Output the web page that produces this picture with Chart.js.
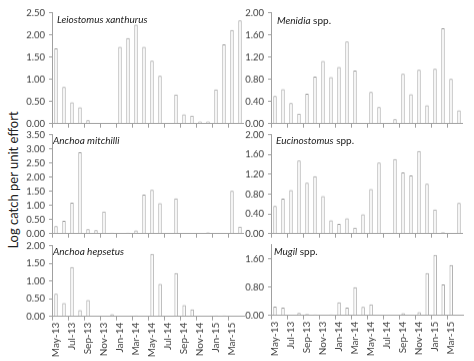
<!DOCTYPE html>
<html>
<head>
<meta charset="utf-8">
<script src="https://cdn.jsdelivr.net/npm/chart.js@4"></script>
<style>
  body { margin: 0; background: #fff; }
  #page { position: relative; width: 474px; height: 361px; overflow: hidden; font-family: Lato, "Open Sans", sans-serif; }
  .panel { position: absolute; }
  .name { position: absolute; font-size: 10px; line-height: 12px; color: #222; white-space: nowrap; }
  #ylabel { position: absolute; left: 13px; top: 180px; transform: translate(-50%, -50%) rotate(-90deg); font-size: 13px; color: #222; white-space: nowrap; }
</style>
</head>
<body>
<div id="page">
  <div id="ylabel">Log catch per unit effort</div>
</div>
<script>
// monthly samples, May 2013 - Apr 2015
const months = ["May-13", "Jun-13", "Jul-13", "Aug-13", "Sep-13", "Oct-13", "Nov-13", "Dec-13",
  "Jan-14", "Feb-14", "Mar-14", "Apr-14", "May-14", "Jun-14", "Jul-14", "Aug-14", "Sep-14", "Oct-14",
  "Nov-14", "Dec-14", "Jan-15", "Feb-15", "Mar-15", "Apr-15"];

const leiostomus = [1.70, 0.83, 0.48, 0.37, 0.08, 0, 0, 0, 1.73, 1.93, 2.23, 1.73, 1.42, 1.08, 0, 0.66, 0.21, 0.18, 0.05, 0.05, 0.77, 1.79, 2.11, 2.33];
const menidia = [0.50, 0.62, 0.37, 0.18, 0.54, 0.85, 1.13, 0.84, 1.02, 1.48, 0.96, 0, 0.57, 0.30, 0, 0.08, 0.90, 0.53, 0.97, 0.33, 0.99, 1.72, 0.81, 0.24];
const mitchilli = [0.27, 0.45, 1.10, 2.88, 0.16, 0.12, 0.78, 0.03, 0, 0.03, 0.11, 1.38, 1.55, 1.08, 0, 1.25, 0, 0, 0, 0.04, 0, 0, 1.52, 0.25];
const eucinostomus = [0.56, 0.71, 0.88, 1.48, 1.03, 1.16, 0.76, 0.27, 0.20, 0.31, 0.12, 0.39, 0.90, 1.44, 0, 1.51, 1.24, 1.18, 1.67, 1.01, 0.49, 0.03, 0, 0.62];
const hepsetus = [0.64, 0.38, 1.40, 0.18, 0.46, 0, 0, 0.06, 0, 0, 0.03, 0, 1.77, 0.92, 0, 1.23, 0.32, 0.20, 0, 0, 0.03, 0.03, 0, 0];
const mugil = [0.25, 0.22, 0, 0.07, 0.04, 0.03, 0, 0.03, 0.37, 0.22, 0.80, 0.24, 0.31, 0, 0, 0, 0.06, 0, 0.09, 1.20, 1.71, 0.88, 1.43, 0];

// y axis ranges [max, step]
const yLeiostomus = [2.5, 0.5];
const yMenidia = [2.0, 0.4];
const yMitchilli = [3.5, 0.5];
const yEucinostomus = [2.0, 0.4];
const yHepsetus = [2.0, 0.5];
const yMugil = [2.0, 0.4];

const page = document.getElementById("page");
const axisGrey = "#a0a0a0";
const textGrey = "#404040";

function makePanel(data, yRange, name, area, showLabels) {
  const YW = 40, XH = showLabels ? 42 : 8;
  const div = document.createElement("div");
  div.className = "panel";
  const w = area.right - area.left, h = area.bottom - area.top;
  div.style.left = (area.left - YW) + "px";
  div.style.top = (area.top - 6) + "px";
  div.style.width = (YW + w) + "px";
  div.style.height = (h + 6 + XH) + "px";
  const canvas = document.createElement("canvas");
  div.appendChild(canvas);
  page.appendChild(div);

  const chart = new Chart(canvas, {
    type: "bar",
    data: {
      labels: months,
      datasets: [{
        data: data,
        backgroundColor: "#ffffff",
        borderColor: "#9a9a9a",
        borderWidth: 1,
        barPercentage: 0.42,
        categoryPercentage: 1,
      }],
    },
    options: {
      responsive: true,
      maintainAspectRatio: false,
      animation: false,
      layout: { padding: 0 },
      plugins: { legend: { display: false }, tooltip: { enabled: false } },
      scales: {
        x: {
          offset: true,
          border: { display: true, color: axisGrey },
          grid: {
            offset: true,
            drawOnChartArea: false,
            tickLength: 4,
            color: (ctx) => (ctx.index % 2 === 0 ? axisGrey : "rgba(0,0,0,0)"),
          },
          ticks: {
            display: showLabels,
            autoSkip: false,
            minRotation: 90,
            maxRotation: 90,
            padding: 2,
            color: textGrey,
            font: { family: "Lato", size: 10 },
            callback: (v, i) => (i % 2 === 0 ? months[i] : ""),
          },
          afterFit: (s) => { s.height = XH; },
        },
        y: {
          min: 0,
          max: yRange[0],
          border: { display: true, color: axisGrey },
          grid: { drawOnChartArea: false, tickLength: 3, color: axisGrey },
          ticks: {
            stepSize: yRange[1],
            padding: 4,
            color: textGrey,
            font: { family: "Lato", size: 9.5 },
            callback: (v) => v.toFixed(2),
          },
          afterFit: (s) => { s.width = YW; },
        },
      },
    },
  });

  // nudge the box so the plot area lands where it should
  const ca = chart.chartArea;
  div.style.left = (area.left - ca.left) + "px";
  div.style.top = (area.top - ca.top) + "px";
  div.style.width = (parseFloat(div.style.width) + w - (ca.right - ca.left)) + "px";
  div.style.height = (parseFloat(div.style.height) + h - (ca.bottom - ca.top)) + "px";
  chart.resize();

  const label = document.createElement("div");
  label.className = "name";
  label.innerHTML = name.html;
  label.style.left = name.x + "px";
  label.style.top = name.y + "px";
  page.appendChild(label);
}

makePanel(leiostomus, yLeiostomus, { html: "<i>Leiostomus xanthurus</i>", x: 57, y: 13 },
  { left: 52, right: 244, top: 13, bottom: 123 }, false);
makePanel(menidia, yMenidia, { html: "<i>Menidia</i> spp.", x: 277, y: 14 },
  { left: 271, right: 463, top: 13, bottom: 123 }, false);
makePanel(mitchilli, yMitchilli, { html: "<i>Anchoa mitchilli</i>", x: 53, y: 134 },
  { left: 52, right: 244, top: 135, bottom: 233 }, false);
makePanel(eucinostomus, yEucinostomus, { html: "<i>Eucinostomus</i> spp.", x: 276, y: 134 },
  { left: 271, right: 463, top: 135, bottom: 233 }, false);
makePanel(hepsetus, yHepsetus, { html: "<i>Anchoa hepsetus</i>", x: 53, y: 245 },
  { left: 52, right: 244, top: 246, bottom: 316 }, true);
makePanel(mugil, yMugil, { html: "<i>Mugil</i> spp.", x: 274, y: 245 },
  { left: 271, right: 463, top: 245, bottom: 315 }, true);
</script>
</body>
</html>
